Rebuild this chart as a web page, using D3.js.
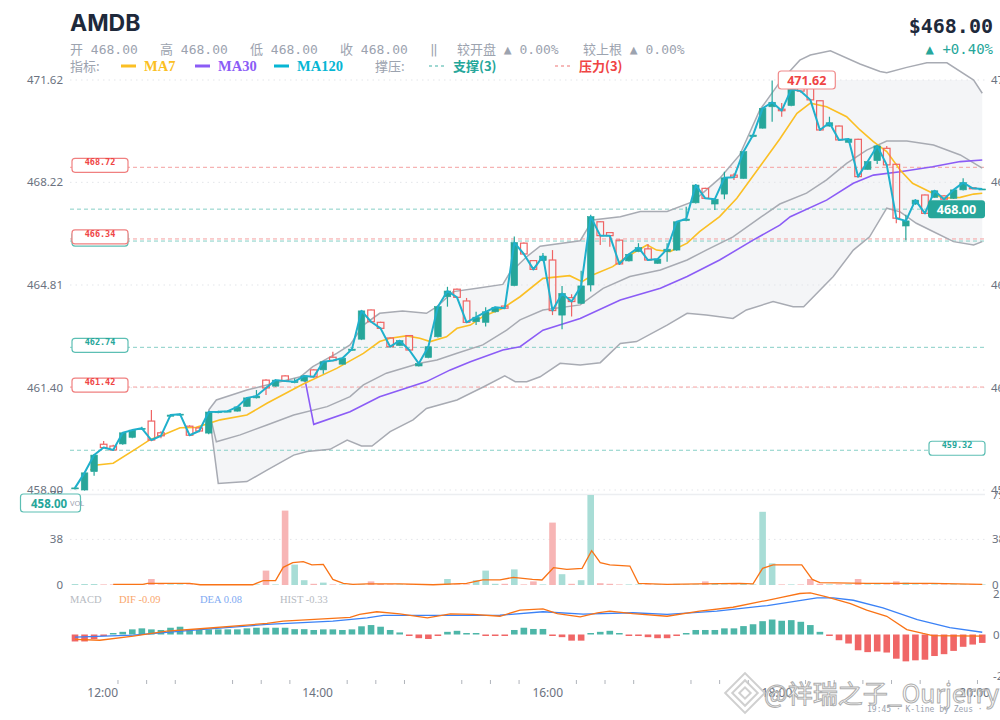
<!DOCTYPE html>
<html><head><meta charset="utf-8">
<script src="https://cdn.jsdelivr.net/npm/d3@7"></script>
<style>body{margin:0;background:#fff}svg{display:block}</style>
</head><body>
<svg id="c" width="1000" height="720"></svg>
<script>
// ---------- DATA ----------
const opens  = [458.07,458.00,458.61,459.52,459.46,459.53,459.75,460.02,460.29,459.90,460.45,460.50,460.12,460.06,459.89,460.57,460.60,460.62,460.78,461.06,461.65,461.45,461.79,461.58,461.62,461.99,461.99,462.41,462.18,462.64,463.01,463.98,463.57,463.05,462.80,463.13,462.12,462.40,463.09,464.42,464.67,464.28,463.59,463.57,463.92,464.11,464.79,466.20,465.62,465.62,465.64,463.81,464.39,464.20,464.81,466.91,466.55,466.30,465.61,465.92,466.01,465.53,465.92,465.97,466.95,467.54,468.02,467.50,467.83,468.46,468.35,469.74,470.02,470.73,470.65,470.77,471.35,471.34,470.93,470.09,470.09,469.55,469.65,468.65,468.94,469.35,468.82,466.77,467.50,467.80,467.72,467.77,467.69,467.97,468.04,468.00];
const closes = [458.07,458.57,459.16,459.41,459.33,459.90,459.99,460.05,459.66,459.80,460.49,460.52,459.82,459.96,460.59,460.60,460.62,460.76,461.06,461.12,461.39,461.65,461.62,461.60,461.79,461.76,462.26,462.30,462.38,462.68,463.95,463.59,463.37,462.76,462.96,462.65,462.20,462.76,464.09,464.61,464.40,463.57,463.74,463.92,464.07,464.04,466.22,465.84,465.33,465.77,463.96,464.53,464.26,464.78,467.08,466.45,466.45,465.51,465.83,466.05,465.64,465.67,466.00,466.91,467.00,468.13,467.69,467.66,468.37,468.39,469.24,469.79,470.68,470.88,470.60,471.31,471.25,470.96,469.96,470.20,469.63,469.66,468.41,468.91,469.43,468.80,467.03,466.94,467.63,467.19,467.94,467.66,467.97,468.21,468.02,468.00];
const highs  = [458.10,458.60,459.20,459.63,459.50,459.93,460.02,460.10,460.66,459.95,460.52,460.55,460.15,460.10,460.62,460.63,460.65,460.78,461.08,461.32,461.68,461.67,461.81,461.70,461.81,462.01,462.28,462.59,462.40,462.70,463.98,464.00,463.59,463.07,462.98,463.15,462.23,462.78,464.11,464.75,464.69,464.38,463.92,464.07,464.09,464.13,466.42,466.22,465.64,465.87,465.97,464.78,464.50,465.28,467.14,466.93,466.57,466.32,465.85,466.20,466.17,465.69,466.20,466.93,467.41,468.15,468.04,467.68,468.57,468.52,469.26,469.81,470.70,471.60,470.86,471.33,471.62,471.36,470.95,470.40,470.11,469.68,469.67,468.93,469.45,469.43,468.84,467.14,467.65,467.82,467.96,467.79,467.99,468.36,468.06,468.00];
const lows   = [458.02,457.98,458.47,459.38,459.30,459.50,459.72,460.00,459.62,459.72,460.42,460.47,459.80,459.92,459.85,460.55,460.58,460.60,460.76,461.04,461.16,461.43,461.60,461.55,461.60,461.74,461.86,462.28,462.16,462.62,462.98,463.57,463.35,462.74,462.78,462.63,462.10,462.38,463.07,464.09,464.38,463.55,463.48,463.43,463.90,464.02,464.77,465.82,465.31,465.60,463.81,463.34,463.76,464.18,464.59,466.14,466.08,465.49,465.59,465.90,465.62,465.51,465.58,465.95,466.93,467.52,467.67,467.30,467.66,468.30,468.33,469.72,470.00,470.23,470.40,470.75,471.20,470.94,469.94,470.07,469.61,469.53,468.39,468.63,468.83,468.78,466.86,466.30,467.48,467.17,467.70,467.64,467.67,467.95,468.00,468.00];
const volumes = [0.8,0.8,0.8,0.5,0.3,0.3,0.3,0.3,5,0.5,0.3,0.3,0.5,0.3,0.3,0.3,0.3,0.3,0.3,0.3,12,0.5,62,17,4,1,2,0.5,0.3,0.3,0.5,3,0.8,0.5,0.3,0.5,0.3,0.3,0.3,5,0.5,0.5,4,12,1,1,13,0.5,3,0.5,52,9,1,4,75,1.5,1,0.5,0.3,0.3,0.3,0.3,0.3,1,0.5,0.5,3,1,0.5,0.5,1,0.5,61,18,0.5,0.5,0.5,5,1,0.5,0.5,0.5,5,0.5,0.5,0.5,3,2,0.5,0.5,0.5,0.5,0.3,0.3,0.3,0.3];
const macdHist = [-0.34,-0.34,-0.22,-0.03,0.03,0.13,0.25,0.30,0.25,0.22,0.33,0.38,0.25,0.22,0.25,0.25,0.25,0.25,0.30,0.33,0.33,0.33,0.33,0.26,0.26,0.22,0.25,0.25,0.22,0.25,0.40,0.46,0.38,0.22,0.10,-0.03,-0.18,-0.22,-0.03,0.13,0.18,0.06,0.03,-0.02,-0.02,-0.02,0.22,0.33,0.27,0.27,-0.02,-0.13,-0.30,-0.30,0.06,0.13,0.18,0.04,-0.02,-0.02,-0.13,-0.18,-0.18,-0.03,0.03,0.22,0.22,0.22,0.30,0.30,0.41,0.50,0.65,0.73,0.67,0.70,0.62,0.46,0.13,-0.02,-0.28,-0.44,-0.77,-0.86,-0.83,-0.88,-1.18,-1.31,-1.26,-1.23,-1.05,-0.96,-0.80,-0.60,-0.49,-0.41];

const ma7Idx = [1.6,2.3,4.0,6.5,7.9,9.2,11.0,12.7,15.2,18.0,20.1,23.9,27.4,30.2,31.9,33.0,34.7,36.1,37.2,38.9,40.0,41.4,42.7,44.8,46.6,49.0,51.8,53.1,54.2,56.3,57.8,59.9,60.9,62.3,64.1,65.4,67.5,69.3,71.7,73.8,75.6,77.0,78.7,80.8,82.2,83.6,85.0,86.4,87.7,89.5,90.9,92.7,94.1,95.0];
const ma7Val = [458.66,458.83,458.89,459.39,459.68,459.83,460.07,460.08,460.33,460.49,460.88,461.52,462.04,462.54,462.93,463.04,463.12,463.04,462.93,463.09,463.37,463.48,463.76,464.04,464.42,465.03,465.12,464.92,465.14,465.42,465.75,466.14,465.97,465.92,466.20,466.58,467.08,467.69,468.74,469.66,470.51,470.85,470.73,470.40,469.96,469.57,469.24,468.63,468.19,467.91,467.69,467.72,467.83,467.86];
const ma30Idx = [24.0,25.0,28.8,31.9,36.8,39.3,41.4,44.8,46.6,49.0,52.9,57.1,61.3,64.1,67.5,71.0,73.8,74.9,78.7,81.5,83.6,86.4,89.8,92.7,95.0];
const ma30Val = [461.80,460.18,460.60,461.10,461.60,461.99,462.26,462.65,462.76,463.31,463.70,464.31,464.70,465.09,465.64,466.30,466.80,467.08,467.63,468.19,468.46,468.57,468.74,468.91,468.96];
const bollUpIdx = [14.0,14.8,18.0,20.1,23.6,24.9,27.4,28.8,30.2,31.9,34.3,36.8,37.9,39.6,42.1,44.8,45.5,47.3,48.7,52.9,54.2,57.1,59.2,62.0,64.7,67.5,69.6,71.7,73.8,75.9,77.0,79.1,82.2,84.3,85.0,87.1,89.2,91.3,94.1,95.0];
const bollUpVal = [460.66,460.99,461.32,461.49,461.76,462.10,462.54,462.82,463.48,463.87,463.95,463.87,464.09,464.59,464.70,464.83,465.20,465.75,466.10,466.28,466.97,467.08,467.25,467.25,467.58,468.35,469.13,470.62,471.55,472.28,472.45,472.59,472.15,471.90,471.86,472.04,472.19,472.19,471.62,471.18];
const bollMidIdx = [14.0,14.8,17.3,20.1,22.9,26.4,28.8,30.2,32.6,36.1,37.9,40.0,42.7,45.2,46.6,49.0,52.9,55.3,58.1,61.3,64.1,66.1,68.9,71.7,73.8,76.6,78.7,80.8,82.9,85.0,87.1,89.9,92.7,95.0];
const bollMidVal = [460.66,459.60,459.83,460.16,460.49,460.77,461.10,461.49,461.88,462.21,462.32,462.54,462.82,463.31,463.65,463.98,464.15,464.70,465.09,465.31,465.64,465.97,466.41,467.04,467.50,467.86,468.30,468.85,469.29,469.59,469.59,469.46,469.13,468.69];
const bollLowIdx = [14.0,15.0,18.0,20.1,22.9,24.3,26.7,28.5,30.0,31.1,33.0,35.4,36.8,40.0,42.8,45.0,46.1,47.3,48.7,50.8,52.9,55.0,57.1,58.8,62.0,64.1,66.1,68.9,70.3,73.1,75.2,76.3,79.4,81.5,83.2,85.0,86.4,88.1,89.9,92.0,94.1,95.0];
const bollLowVal = [460.66,458.22,458.28,458.66,459.16,459.28,459.35,459.66,459.46,459.46,459.94,460.33,460.71,460.99,461.43,461.79,461.60,461.60,461.76,462.21,462.15,462.23,462.87,462.93,463.48,463.87,463.81,463.70,463.98,464.26,464.09,464.09,465.09,465.97,466.41,467.36,467.24,466.86,466.58,466.25,466.14,466.25];
const volMaIdx = [4.0,7.1,7.6,12.0,13.1,18.6,19.7,21.0,21.8,22.8,23.9,24.8,26.0,27.0,28.1,29.1,30.6,34.0,37.5,41.0,42.7,44.5,45.9,47.9,48.9,50.1,51.5,53.1,54.1,55.0,56.0,58.1,59.0,62.0,65.4,69.6,71.0,72.0,73.1,76.1,77.2,78.0,82.9,89.8,95.0];
const volMaVal = [0.6,0.6,1.4,1.4,0.2,0.2,3.6,3.6,14.7,18.6,19.4,16.7,17.2,4.7,1.4,0.6,0.9,0.9,0.2,1.4,4.2,4.2,6.4,4.7,4.2,14.4,13.1,13.9,28.6,18.6,16.7,15.8,1.4,0.6,1.0,1.4,0.9,13.9,16.7,16.7,4.7,1.9,1.4,1.4,0.6];
const difIdx = [0,2.6,6.1,9.6,13.1,20.1,21.8,28.8,29.8,31.6,34.0,36.9,39.3,41.7,44.5,46.6,49.0,50.5,52.9,54.7,56.0,58.4,62.0,65.4,68.9,72.5,74.1,75.9,77.0,78.7,81.2,82.9,85.0,87.1,88.8,89.8,95.0];
const difVal = [-0.24,-0.28,-0.08,0.16,0.28,0.54,0.65,0.84,0.98,1.11,1.01,0.81,1.01,0.98,0.89,1.19,1.25,1.02,0.86,1.06,1.14,1.02,0.89,1.14,1.33,1.67,1.82,2.00,2.03,1.84,1.51,1.19,0.89,0.24,0.05,-0.05,-0.08];
const deaIdx = [0,6.1,13.1,20.1,27.0,30.6,32.3,37.5,44.5,49.0,53.2,58.4,62.0,67.2,72.5,77.7,79.4,81.5,84.6,88.2,91.6,95.0];
const deaVal = [-0.13,-0.03,0.24,0.49,0.65,0.81,0.93,0.93,0.94,1.11,0.99,1.06,0.98,1.14,1.41,1.79,1.79,1.67,1.30,0.73,0.33,0.11];

const priceTicks = [471.62,468.22,464.81,461.40,458.00];
const volTicks = [75,38,0];
const macdTicks = [2,0,-2];
const macdTickLabels = ["2.00","0.00","-2.00"];
const timeLabels = ["12:00","14:00","16:00","18:00","20:00"];
const timeLabelIdx = [2.9,25.4,49.5,73.5,94.2];
const minorTickIdx = [4.5,7.5,10.5,16.5,19.5,22.5,28.5,31.5,34.5,40.5,43.5,46.5,52.5,55.5,58.5,64.5,67.5,70.5,76.5,79.5,82.5,85.5,88.5,91.5,94.5];
const resistLevels = [468.72,466.34,461.42];
const supportLevels = [467.33,466.27,462.74,459.32];
const supportLabelSide = ["none","left","left","right"];
const lastPrice = 468.00;
const minPrice = 458.00;

// ---------- SETUP ----------
const svg = d3.select('#c');
const N = closes.length;
const TEAL = '#26a69a';
const x = d3.scaleLinear().domain([0, N-1]).range([75, 982.25]);
const y = d3.scaleLinear().domain([458.00, 471.62]).range([490, 80]);
const yv = d3.scaleLinear().domain([0, 75]).range([585, 495]);
const ym = d3.scaleLinear().domain([-2, 2]).range([675.5, 593.5]);
const L = 70, R = 985;
const SANS = "'Noto Sans','Open Sans',sans-serif";
const MONO = "'DejaVu Sans Mono',monospace";
const CJK = "'Noto Sans CJK SC','Noto Sans',sans-serif";
const SERIF = "'Liberation Serif','DejaVu Serif',serif";

const defs = svg.append('defs');
defs.append('clipPath').attr('id','mainClip').append('rect').attr('x',L).attr('y',80).attr('width',R-L).attr('height',410);

// ---------- HEADER ----------
svg.append('text').attr('x',70).attr('y',31).text('AMDB')
  .style('font-family',"Inter,'Noto Sans',sans-serif").style('font-weight',700).style('font-size','23px').attr('fill','#1e293b');
const hdr = [["开 468.00",70],["高 468.00",160],["低 468.00",250],["收 468.00",340],["‖",430],["较开盘 ▲ 0.00%",457],["较上根 ▲ 0.00%",583]];
hdr.forEach(h=>svg.append('text').attr('x',h[1]).attr('y',54).text(h[0])
  .style('font-family',MONO+",'Noto Sans CJK SC'").style('font-size','13px').attr('fill','#9ca3af'));
svg.append('text').attr('x',993).attr('y',33).attr('text-anchor','end').text('$468.00')
  .style('font-family',MONO).style('font-weight',700).style('font-size','20px').attr('fill','#1e293b');
svg.append('text').attr('x',993).attr('y',54).attr('text-anchor','end').text('▲ +0.40%')
  .style('font-family',MONO).style('font-size','14px').attr('fill',TEAL);
svg.append('text').attr('x',70).attr('y',71).text('指标:').style('font-family',CJK).style('font-size','13px').attr('fill','#9ca3af');
const legNames = ["MA7","MA30","MA120"], legColors = ['#fbbf24','#8b5cf6','#06b6d4'], legX = [121,195,274];
legNames.forEach((n,i)=>{
  svg.append('rect').attr('x',legX[i]).attr('y',64.5).attr('width',15).attr('height',3).attr('fill',legColors[i]);
  svg.append('text').attr('x',legX[i]+23).attr('y',71).text(n).style('font-family',SERIF).style('font-weight',700).style('font-size','14.5px').attr('fill',legColors[i]);
});
svg.append('text').attr('x',375).attr('y',71).text('撑压:').style('font-family',CJK).style('font-size','13px').attr('fill','#9ca3af');
svg.append('line').attr('x1',429).attr('x2',447).attr('y1',66).attr('y2',66).attr('stroke','#80cbc4').attr('stroke-width',1.5).attr('stroke-dasharray','3,3');
svg.append('text').attr('x',453).attr('y',71).text('支撑(3)').style('font-family',CJK).style('font-weight',700).style('font-size','13px').attr('fill',TEAL);
svg.append('line').attr('x1',555).attr('x2',573).attr('y1',66).attr('y2',66).attr('stroke','#f4a3a3').attr('stroke-width',1.5).attr('stroke-dasharray','3,3');
svg.append('text').attr('x',579).attr('y',71).text('压力(3)').style('font-family',CJK).style('font-weight',700).style('font-size','13px').attr('fill','#ef4444');

// ---------- BOLL FILL ----------
const upPts = bollUpIdx.map((d,i)=>[x(d), y(bollUpVal[i])]);
const lowPts = bollLowIdx.map((d,i)=>[x(d), y(bollLowVal[i])]);
svg.append('path').attr('clip-path','url(#mainClip)')
  .attr('d', d3.line()(upPts.concat(lowPts.slice().reverse()))+'Z').attr('fill','#f4f5f7');

// ---------- GRID ----------
priceTicks.forEach(t=>{
  svg.append('line').attr('x1',L).attr('x2',R).attr('y1',y(t)).attr('y2',y(t))
    .attr('stroke','#e3e5e9').attr('stroke-dasharray','1.5,4');
  svg.append('text').attr('x',63).attr('y',y(t)+4).attr('text-anchor','end').text(t.toFixed(2))
    .style('font-family',SANS).style('font-size','11.5px').attr('fill','#6b7280');
  svg.append('text').attr('x',991).attr('y',y(t)+4).text(t.toFixed(2))
    .style('font-family',SANS).style('font-size','11.5px').attr('fill','#6b7280');
});
svg.append('line').attr('x1',L).attr('x2',R).attr('y1',494.5).attr('y2',494.5).attr('stroke','#eceef1').attr('stroke-width',1.5);
volTicks.forEach(t=>{
  if(t>0 && t<75) svg.append('line').attr('x1',L).attr('x2',R).attr('y1',yv(t)).attr('y2',yv(t)).attr('stroke','#e3e5e9').attr('stroke-dasharray','1.5,4');
  svg.append('text').attr('x',63).attr('y',yv(t)+4).attr('text-anchor','end').text(t)
    .style('font-family',SANS).style('font-size','11.5px').attr('fill','#6b7280');
  svg.append('text').attr('x',992).attr('y',yv(t)+4).text(t)
    .style('font-family',SANS).style('font-size','11.5px').attr('fill','#6b7280');
});
macdTicks.forEach((t,i)=>svg.append('text').attr('x',993).attr('y',ym(t)+4).text(macdTickLabels[i])
  .style('font-family',SANS).style('font-size','11.5px').attr('fill','#6b7280'));

// ---------- SUPPORT / RESISTANCE ----------
function srLine(v,color){
  svg.append('line').attr('x1',L).attr('x2',R).attr('y1',y(v)).attr('y2',y(v))
    .attr('stroke',color).attr('stroke-width',1).attr('stroke-dasharray','4,3');
}
function srBox(v,bx,stroke,txt){
  const yy = y(v);
  svg.append('rect').attr('x',bx).attr('y',yy-9).attr('width',56).attr('height',14).attr('rx',3)
    .attr('fill','#fff').attr('stroke',stroke).attr('stroke-width',1.2);
  svg.append('text').attr('x',bx+28).attr('y',yy-2).attr('text-anchor','middle').text(v.toFixed(2))
    .style('font-family',MONO).style('font-weight',700).style('font-size','8.5px').attr('fill',txt);
}
supportLevels.forEach(v=>srLine(v,'#86cfc6'));
resistLevels.forEach(v=>srLine(v,'#f4a0a0'));
supportLevels.forEach((v,i)=>{
  if(supportLabelSide[i]==='left') srBox(v,72,'#5dbfb4',TEAL);
  if(supportLabelSide[i]==='right') srBox(v,929,'#5dbfb4',TEAL);
});
resistLevels.forEach(v=>srBox(v,72,'#f08080','#ef4444'));

// ---------- BOLL LINES & MAs ----------
const ln = d3.line();
[ [bollUpIdx,bollUpVal], [bollMidIdx,bollMidVal], [bollLowIdx,bollLowVal] ].forEach(b=>{
  svg.append('path').attr('d', ln(b[0].map((d,i)=>[x(d), y(b[1][i])])))
    .attr('fill','none').attr('stroke','#a8abb3').attr('stroke-width',1.5);
});
svg.append('path').attr('d', ln(ma30Idx.map((d,i)=>[x(d), y(ma30Val[i])])))
  .attr('fill','none').attr('stroke','#8b5cf6').attr('stroke-width',1.6);
svg.append('path').attr('d', ln(ma7Idx.map((d,i)=>[x(d), y(ma7Val[i])])))
  .attr('fill','none').attr('stroke','#fbbf24').attr('stroke-width',1.6);

// ---------- CANDLES ----------
const cw = 6.6;
const cg = svg.append('g');
closes.forEach((c,i)=>{
  const o = opens[i], up = c >= o;
  const col = up ? TEAL : '#ef6464';
  const top = y(Math.max(o,c)), bot = y(Math.min(o,c));
  const h = Math.max(1, bot-top);
  cg.append('line').attr('x1',x(i)).attr('x2',x(i)).attr('y1',y(highs[i])).attr('y2',top).attr('stroke',col).attr('stroke-width',1.2);
  cg.append('line').attr('x1',x(i)).attr('x2',x(i)).attr('y1',top+h).attr('y2',y(lows[i])).attr('stroke',col).attr('stroke-width',1.2);
  cg.append('rect').attr('x',x(i)-cw/2).attr('y',top).attr('width',cw).attr('height',h)
    .attr('fill', up ? TEAL : 'none').attr('stroke',col).attr('stroke-width', up?0.6:1.2);
});
svg.append('path').attr('d', ln(closes.map((c,i)=>[x(i), y(c)])))
  .attr('fill','none').attr('stroke','#1fb0cc').attr('stroke-width',2).attr('stroke-linejoin','round');

// ---------- PRICE LABELS ----------
const mi = d3.maxIndex(highs);
const mx = x(mi)+6;
svg.append('rect').attr('x',mx-28.5).attr('y',71).attr('width',57).attr('height',18).attr('rx',3)
  .attr('fill','#fff').attr('stroke','#f08a8a').attr('stroke-width',1.2);
svg.append('text').attr('x',mx).attr('y',84.5).attr('text-anchor','middle').text(highs[mi].toFixed(2))
  .style('font-family',SANS).style('font-weight',700).style('font-size','12.5px').attr('fill','#ef4444');

svg.append('rect').attr('x',928).attr('y',y(supportLevels[0])-9).attr('width',57).attr('height',18).attr('rx',3).attr('fill',TEAL);
svg.append('text').attr('x',956.5).attr('y',y(supportLevels[0])+4.5).attr('text-anchor','middle').text(lastPrice.toFixed(2))
  .style('font-family',SANS).style('font-weight',700).style('font-size','12.5px').attr('fill','#fff');

svg.append('rect').attr('x',20.5).attr('y',494).attr('width',60).attr('height',18).attr('rx',3)
  .attr('fill','#fff').attr('stroke','#5dbfb4').attr('stroke-width',1.2);
svg.append('text').attr('x',31).attr('y',507.5).text(minPrice.toFixed(2))
  .style('font-family',SANS).style('font-weight',700).style('font-size','11.5px').attr('fill',TEAL);
svg.append('text').attr('x',70).attr('y',506).text('VOL').style('font-family',SANS).style('font-size','7.5px').attr('fill','#9ca3af');

// ---------- VOLUME ----------
volumes.forEach((v,i)=>{
  const up = closes[i] >= opens[i];
  const h = Math.max(0.6, yv(0)-yv(v));
  svg.append('rect').attr('x',x(i)-cw/2).attr('y',yv(0)-h).attr('width',cw).attr('height',h)
    .attr('fill', up ? '#a8ddd6' : '#f7b5b5');
});
svg.append('path').attr('d', ln(volMaIdx.map((d,i)=>[x(d), yv(volMaVal[i])])))
  .attr('fill','none').attr('stroke','#f97316').attr('stroke-width',1.3);

// ---------- MACD ----------
const mt = [["MACD",70,'#b6bac1'],["DIF -0.09",119,'#f9a66c'],["DEA 0.08",200,'#7ea9f2'],["HIST -0.33",280,'#b6bac1']];
mt.forEach(t=>svg.append('text').attr('x',t[1]).attr('y',603).text(t[0]).style('font-family',SERIF).style('font-size','10.5px').attr('fill',t[2]));
macdHist.forEach((v,i)=>{
  const y0 = ym(0), y1 = ym(v);
  let top = Math.min(y0,y1), h = Math.abs(y1-y0);
  if(h<1.5){ h=1.5; top = v>=0 ? y0-1.5 : y0; }
  svg.append('rect').attr('x',x(i)-cw/2).attr('y',top).attr('width',cw).attr('height',h)
    .attr('fill', v>=0 ? '#4db6a8' : '#f06666');
});
svg.append('path').attr('d', ln(deaIdx.map((d,i)=>[x(d), ym(deaVal[i])])))
  .attr('fill','none').attr('stroke','#3b82f6').attr('stroke-width',1.3);
svg.append('path').attr('d', ln(difIdx.map((d,i)=>[x(d), ym(difVal[i])])))
  .attr('fill','none').attr('stroke','#f97316').attr('stroke-width',1.3);

// ---------- TIME AXIS ----------
minorTickIdx.forEach(t=>svg.append('line').attr('x1',x(t)).attr('x2',x(t)).attr('y1',680).attr('y2',684).attr('stroke','#b0b4bb'));
timeLabels.forEach((t,i)=>svg.append('text').attr('x',x(timeLabelIdx[i])).attr('y',697).attr('text-anchor','middle').text(t)
  .style('font-family',SANS).style('font-size','12px').attr('fill','#6b7280'));

// ---------- WATERMARK / FOOTER ----------
const wm = svg.append('g').attr('opacity',0.85);
[14,9,4].forEach(r=>wm.append('rect').attr('x',745-r).attr('y',693-r).attr('width',2*r).attr('height',2*r)
  .attr('transform','rotate(45,745,693)').attr('fill','none').attr('stroke','#c8c8c8').attr('stroke-width',2));
wm.append('text').attr('x',764).attr('y',703).text('@祥瑞之子_Ourjerry')
  .style('font-family',CJK).style('font-size','25px').attr('fill','#ffffff').attr('stroke','#a0a0a0').attr('stroke-width',1);
svg.append('text').attr('x',867).attr('y',712).text('19:45 · K-line by Zeus ·')
  .style('font-family',MONO).style('font-size','8px').attr('fill','#9ca3af');
</script>
</body></html>
